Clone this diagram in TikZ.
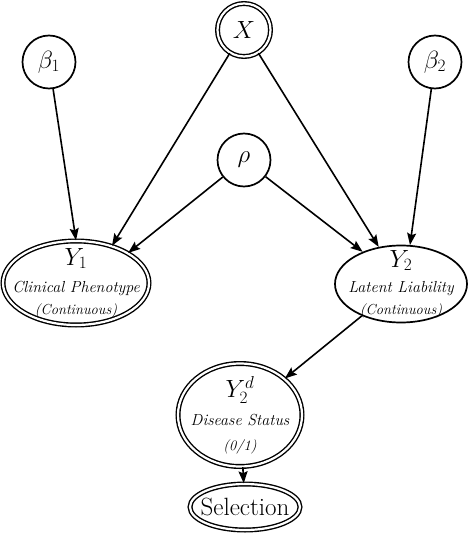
\documentclass[tikz,border=0pt]{standalone}
\usetikzlibrary{shapes.geometric,arrows.meta}
\begin{document}
\begin{tikzpicture}[x=1pt,y=-1pt,
  base/.style={draw,line width=1.7pt,inner sep=0pt},
  circ/.style={base,circle,minimum size=53pt,font=\fontsize{23.5}{26}\selectfont},
  dcirc/.style={circ,double,double distance=2.2pt,line width=1.4pt},
  ell/.style={base,ellipse,align=center,inner sep=-30pt,font=\fontsize{16}{22}\selectfont},
  dell/.style={ell,double,double distance=2.2pt,line width=1.4pt},
  arr/.style={line width=1.6pt,-{Stealth[length=12pt,width=9pt,inset=2pt]}}]
\useasboundingbox (0,0) rectangle (474,537);
\node[dcirc] (X) at (244,30) {$X$};
\node[circ] (b1) at (49,62) {$\beta_1$};
\node[circ] (b2) at (435,62) {$\beta_2$};
\node[circ] (rho) at (244,160) {$\rho$};
\node[dell,minimum width=146pt,minimum height=84pt] (Y1) at (76,283)
  {{\fontsize{23}{26}\selectfont$Y_1$}\\[5pt]{\itshape Clinical Phenotype}\\{\fontsize{14.5}{16}\selectfont\itshape (Continuous)}};
\node[ell,minimum width=132pt,minimum height=77pt] (Y2) at (401,284)
  {{\fontsize{23}{26}\selectfont$Y_2$}\\[3pt]{\itshape Latent Liability}\\{\fontsize{14.5}{16}\selectfont\itshape (Continuous)}};
\node[dell,minimum width=124pt,minimum height=103pt] (Y2d) at (240,415)
  {{\fontsize{23}{26}\selectfont$Y_2^d$}\\[6pt]{\itshape Disease Status}\\[3pt]{\fontsize{14.5}{16}\selectfont\itshape (0/1)}};
\node[dell,minimum width=110pt,minimum height=46pt,font=\fontsize{25}{28}\selectfont] (sel) at (245,507) {Selection};
\draw[arr] (b1) -- (Y1.north);
\draw[arr] (X) -- (Y1.46);
\draw[arr] (rho) -- (Y1.30);
\draw[arr] (X) -- (Y2.121);
\draw[arr] (rho) -- (Y2.140);
\draw[arr] (b2) -- (Y2.77);
\draw[arr] (Y2) -- (Y2d);
\draw[arr] (Y2d) -- (sel);
\end{tikzpicture}
\end{document}
